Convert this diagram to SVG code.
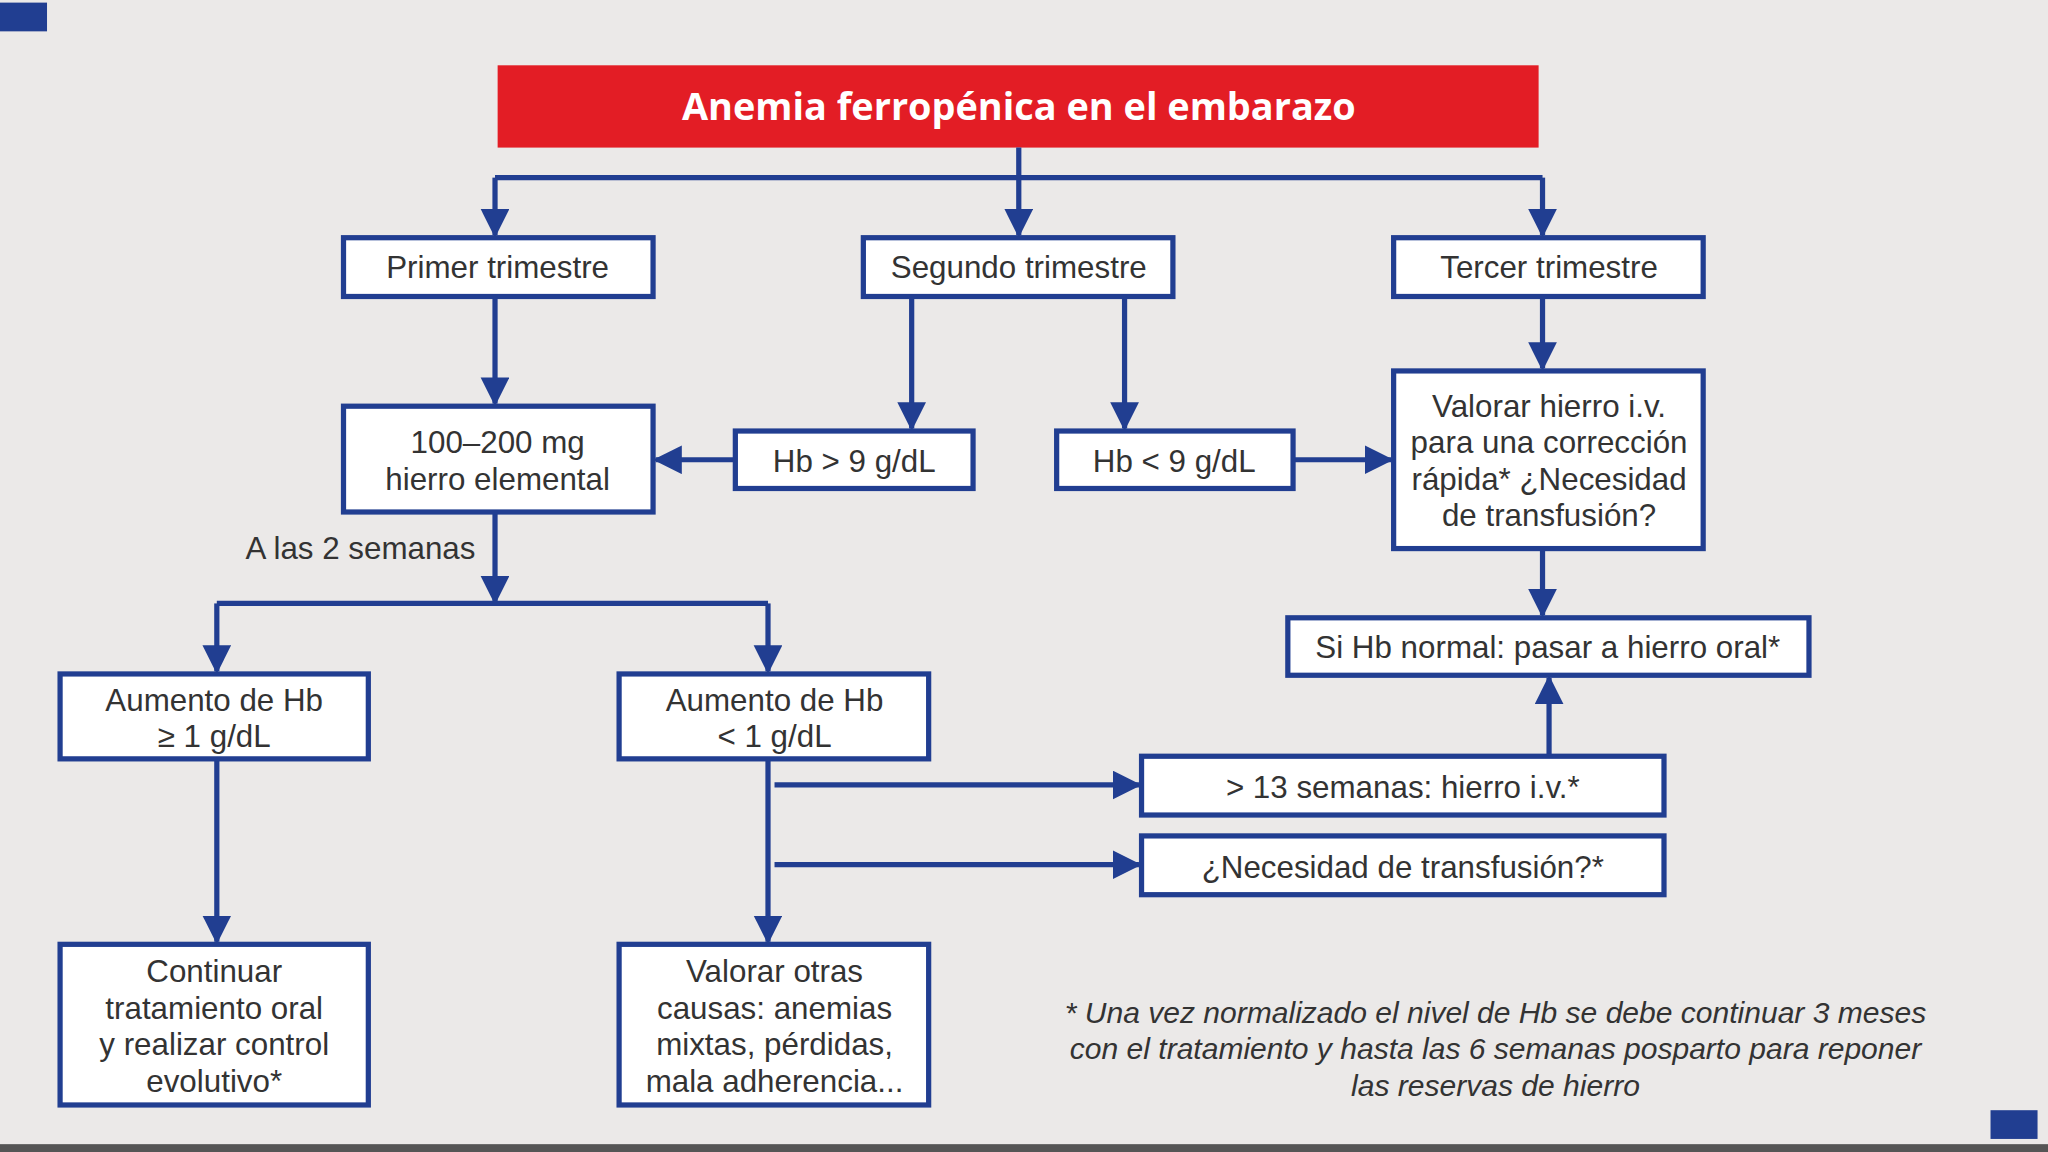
<svg xmlns="http://www.w3.org/2000/svg" width="2048" height="1152" viewBox="0 0 2048 1152">
<style>
.b{fill:#fff;stroke:#213e91;stroke-width:4}
.c{fill:none;stroke:#213e91;stroke-width:4}
.t{font-family:"Liberation Sans",Arial,sans-serif;font-size:24px;fill:#333;text-anchor:middle}
.f{font-family:"Liberation Sans",Arial,sans-serif;font-size:23px;fill:#333;text-anchor:middle;font-style:italic}
</style>
<defs>
<marker id="a" markerUnits="userSpaceOnUse" markerWidth="24" markerHeight="24" refX="20" refY="11" orient="auto">
<path d="M0,0 L22,11 L0,22 Z" fill="#213e91"/>
</marker>
</defs>
<rect width="2048" height="1152" fill="#ebe9e8"/>
<g transform="scale(1.30612)">
<rect x="0" y="2" width="36" height="22" fill="#213e91"/>
<rect x="1524" y="850" width="36" height="22" fill="#213e91"/>
<rect x="0" y="876" width="1568" height="6" fill="#555"/>
<g id="title"><rect x="381" y="50" width="797" height="63" fill="#e31d25"/>
<text x="780" y="92" font-family="Open Sans,Liberation Sans,sans-serif" font-weight="bold" font-size="29" fill="#fff" text-anchor="middle">Anemia ferropénica en el embarazo</text></g>
<g id="connectors">
<path class="c" d="M780,113 V136 M379,136 H1181"/>
<path class="c" marker-end="url(#a)" d="M379,136 V180"/>
<path class="c" marker-end="url(#a)" d="M780,136 V180"/>
<path class="c" marker-end="url(#a)" d="M1181,136 V180"/>
<path class="c" marker-end="url(#a)" d="M379,227 V309"/>
<path class="c" marker-end="url(#a)" d="M698,227 V328"/>
<path class="c" marker-end="url(#a)" d="M861,227 V328"/>
<path class="c" marker-end="url(#a)" d="M563,352 H502"/>
<path class="c" marker-end="url(#a)" d="M990,352 H1065"/>
<path class="c" marker-end="url(#a)" d="M1181,227 V282"/>
<path class="c" marker-end="url(#a)" d="M1181,420 V471"/>
<path class="c" marker-end="url(#a)" d="M379,392 V461"/>
<path class="c" d="M166,462 H588"/>
<path class="c" marker-end="url(#a)" d="M166,462 V514"/>
<path class="c" marker-end="url(#a)" d="M588,462 V514"/>
<path class="c" marker-end="url(#a)" d="M166,581 V721"/>
<path class="c" marker-end="url(#a)" d="M588,581 V721"/>
<path class="c" marker-end="url(#a)" d="M593,601 H872"/>
<path class="c" marker-end="url(#a)" d="M593,662 H872"/>
<path class="c" marker-end="url(#a)" d="M1186,579 V519"/>
</g>
<g id="primer"><rect class="b" x="263" y="182" width="237" height="45"/><text class="t" x="381" y="213">Primer trimestre</text></g>
<g id="segundo"><rect class="b" x="661" y="182" width="237" height="45"/><text class="t" x="780" y="213">Segundo trimestre</text></g>
<g id="tercer"><rect class="b" x="1067" y="182" width="237" height="45"/><text class="t" x="1186" y="213">Tercer trimestre</text></g>
<g id="hierro"><rect class="b" x="263" y="311" width="237" height="81"/><text class="t" x="381" y="347">100–200 mg</text><text class="t" x="381" y="375">hierro elemental</text></g>
<g id="hbmas"><rect class="b" x="563" y="330" width="182" height="44"/><text class="t" x="654" y="361">Hb &gt; 9 g/dL</text></g>
<g id="hbmenos"><rect class="b" x="809" y="330" width="181" height="44"/><text class="t" x="899" y="361">Hb &lt; 9 g/dL</text></g>
<g id="valorariv"><rect class="b" x="1067" y="284" width="237" height="136"/>
<text class="t" x="1186" y="319">Valorar hierro i.v.</text><text class="t" x="1186" y="347">para una corrección</text><text class="t" x="1186" y="375">rápida* ¿Necesidad</text><text class="t" x="1186" y="403">de transfusión?</text></g>
<g id="sihb"><rect class="b" x="986" y="473" width="399" height="44"/><text class="t" x="1185" y="504">Si Hb normal: pasar a hierro oral*</text></g>
<text class="t" x="276" y="428">A las 2 semanas</text>
<g id="aumento1"><rect class="b" x="46" y="516" width="236" height="65"/><text class="t" x="164" y="544">Aumento de Hb</text><text class="t" x="164" y="572">≥ 1 g/dL</text></g>
<g id="aumento2"><rect class="b" x="474" y="516" width="237" height="65"/><text class="t" x="593" y="544">Aumento de Hb</text><text class="t" x="593" y="572">&lt; 1 g/dL</text></g>
<g id="semanas"><rect class="b" x="874" y="579" width="400" height="45"/><text class="t" x="1074" y="611">&gt; 13 semanas: hierro i.v.*</text></g>
<g id="transf"><rect class="b" x="874" y="640" width="400" height="45"/><text class="t" x="1074" y="672">¿Necesidad de transfusión?*</text></g>
<g id="continuar"><rect class="b" x="46" y="723" width="236" height="123"/>
<text class="t" x="164" y="752">Continuar</text><text class="t" x="164" y="780">tratamiento oral</text><text class="t" x="164" y="808">y realizar control</text><text class="t" x="164" y="836">evolutivo*</text></g>
<g id="otras"><rect class="b" x="474" y="723" width="237" height="123"/>
<text class="t" x="593" y="752">Valorar otras</text><text class="t" x="593" y="780">causas: anemias</text><text class="t" x="593" y="808">mixtas, pérdidas,</text><text class="t" x="593" y="836">mala adherencia...</text></g>
<g id="nota"><text class="f" x="1145" y="783">* Una vez normalizado el nivel de Hb se debe continuar 3 meses</text>
<text class="f" x="1145" y="811">con el tratamiento y hasta las 6 semanas posparto para reponer</text>
<text class="f" x="1145" y="839">las reservas de hierro</text></g>
</g>
</svg>
